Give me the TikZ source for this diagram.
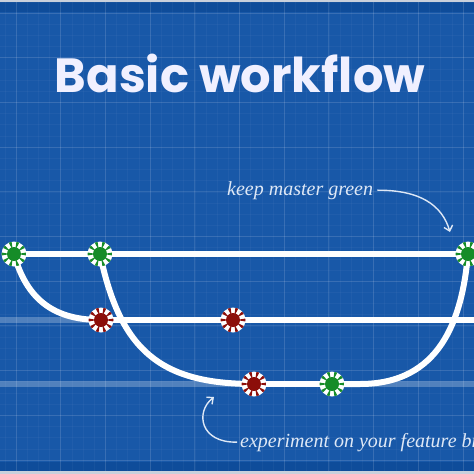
\documentclass[tikz,border=0pt]{standalone}
\usepackage{fontspec}
\setmainfont{Liberation Serif}
\newfontfamily\titlefont{Poppins}
\usetikzlibrary{arrows.meta,calc}
\definecolor{bp}{RGB}{24,88,168}
\definecolor{bpdark}{RGB}{14,76,154}
\definecolor{framegray}{RGB}{200,208,220}
\definecolor{cgreen}{RGB}{22,140,40}
\definecolor{cred}{RGB}{140,14,10}
\definecolor{notecol}{RGB}{222,232,246}
\tikzset{
  minorgrid/.style={draw=white, opacity=0.035, line width=0.6pt},
  majorgrid/.style={draw=white, opacity=0.11, line width=0.9pt},
  branch/.style={draw=white, line width=6pt},
  band/.style={draw=white, opacity=0.25, line width=6pt},
  ann/.style={draw=notecol, line width=1.4pt, -{Straight Barb[length=5pt,width=9pt,line width=1.4pt]}},
  notetext/.style={text=notecol, inner sep=0pt, font=\itshape\fontsize{20}{20}\selectfont},
  titletext/.style={text=white!94!blue, inner sep=0pt, font=\titlefont\bfseries\fontsize{48}{48}\selectfont},
  commit/.style={circle, minimum size=25pt, inner sep=0pt, fill=white,
    path picture={
      \fill[#1] (path picture bounding box.center) circle[radius=7pt];
      \foreach \a in {0,36,...,324}{
        \fill[#1] ([shift={(\a:4pt)}]path picture bounding box.center)
          -- ([shift={(\a+7:12.8pt)}]path picture bounding box.center)
          -- ([shift={(\a-7:12.8pt)}]path picture bounding box.center) -- cycle;
      }
    }},
}
\begin{document}
\begin{tikzpicture}[x=1pt,y=-1pt]
\useasboundingbox (0,0) rectangle (474,474);
\clip (0,0) rectangle (474,474);
\fill[bp] (0,0) rectangle (474,474);
\fill[bpdark] (0,2) rectangle (474,12);
\fill[bpdark] (0,462) rectangle (474,471);
% grid
\foreach \k in {-2,...,42}{
  \draw[minorgrid] ({16+11.175*\k},0) -- ({16+11.175*\k},474);
  \draw[minorgrid] (0,{13+11.175*\k}) -- (474,{13+11.175*\k});
}
\foreach \k in {0,...,10}{
  \draw[majorgrid] ({16+44.7*\k},0) -- ({16+44.7*\k},474);
  \draw[majorgrid] (0,{13+44.7*\k}) -- (474,{13+44.7*\k});
}
\fill[framegray] (0,0) rectangle (474,2);
\fill[framegray] (0,471) rectangle (474,474);

% title
\node[titletext, anchor=base] (title) at (240,92) {Basic workflow};

% light bands
\draw[band] (0,320) -- (474,320);
\draw[band] (0,384) -- (474,384);

% commit positions
\coordinate (g1) at (14,254);
\coordinate (g2) at (100,254);
\coordinate (g3) at (468,254);
\coordinate (r1) at (101,320);
\coordinate (r2) at (233,320);
\coordinate (r3) at (254,384);
\coordinate (g4) at (332,384);
\coordinate (topend) at (480,254);
\coordinate (midend) at (480,320);

% branches
\draw[branch] (g1) -- (topend);
\draw[branch] (r1) -- (midend);
\draw[branch] (g1) .. controls (28,305) and (60,320) .. (r1);
\draw[branch] (g2) .. controls (120,350) and (160,384) .. (r3);
\draw[branch] (r3) -- (g4);
\draw[branch] (g4) -- (360,384) .. controls (440,384) and (462,320) .. (g3);

% commits
\node[commit=cgreen] (G1) at (g1) {};
\node[commit=cgreen] (G2) at (g2) {};
\node[commit=cgreen] (G3) at (g3) {};
\node[commit=cred] (R1) at (r1) {};
\node[commit=cred] (R2) at (r2) {};
\node[commit=cred] (R3) at (r3) {};
\node[commit=cgreen] (G4) at (g4) {};

% annotations
\node[notetext, anchor=base west] (kmg) at (227,195) {keep master green};
\coordinate (kend) at (450,232);
\draw[ann] ([xshift=4pt]kmg.east) .. controls (420,190) and (442,205) .. (kend);

\node[notetext, anchor=base west] (exp) at (240,447) {experiment on your feature branch};
\coordinate (eend) at (214,397);
\draw[ann] ([xshift=-3pt]exp.west) .. controls (200,443) and (195,412) .. (eend);
\end{tikzpicture}
\end{document}
